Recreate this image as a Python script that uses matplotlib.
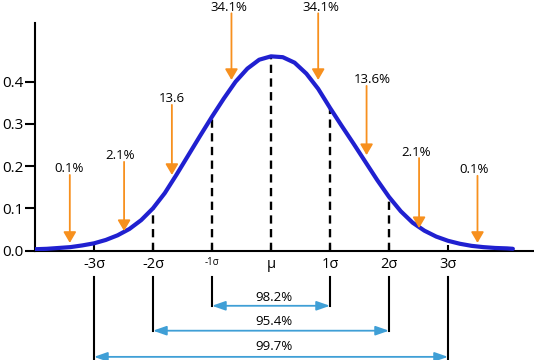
import matplotlib
matplotlib.use("Agg")
import matplotlib.pyplot as plt
import numpy as np

plt.rcParams['font.family'] = ['Open Sans', 'DejaVu Sans']

# curve (x in sigma units, y = density)
curve_x = [-4.0, -3.8, -3.6, -3.4, -3.2, -3.0, -2.8, -2.6, -2.4, -2.2, -2.0, -1.8, -1.6, -1.4,
           -1.2, -1.0, -0.8, -0.6, -0.4, -0.2, 0.0, 0.2, 0.4, 0.6, 0.8, 1.0, 1.2, 1.4,
           1.6, 1.8, 2.0, 2.2, 2.4, 2.6, 2.8, 3.0, 3.2, 3.4, 3.6, 3.8, 4.0, 4.1]
curve_y = [0.003, 0.004, 0.006, 0.008, 0.012, 0.017, 0.025, 0.036, 0.051, 0.072, 0.100, 0.136,
           0.180, 0.226, 0.272, 0.317, 0.360, 0.400, 0.431, 0.452, 0.460, 0.458, 0.445, 0.419,
           0.383, 0.338, 0.295, 0.253, 0.210, 0.167, 0.127, 0.093, 0.066, 0.047, 0.033, 0.023,
           0.016, 0.011, 0.008, 0.006, 0.005, 0.004]

sigma_ticks = [-3, -2, -1, 0, 1, 2, 3]
sigma_labels = ['-3σ', '-2σ', '-1σ', 'μ', '1σ', '2σ', '3σ']
dashed_at = [-2, -1, 0, 1, 2]
y_ticks = [0.0, 0.1, 0.2, 0.3, 0.4]

# orange arrows
arrow_x = [-3.41, -2.49, -1.68, -0.67, 0.80, 1.62, 2.51, 3.50]
arrow_top = [0.179, 0.210, 0.345, 0.562, 0.562, 0.390, 0.219, 0.177]
arrow_tip = [0.018, 0.046, 0.179, 0.404, 0.404, 0.226, 0.053, 0.018]
arrow_text_x = [-3.42, -2.56, -1.68, -0.71, 0.85, 1.71, 2.46, 3.44]
arrow_labels = ['0.1%', '2.1%', '13.6', '34.1%', '34.1%', '13.6%', '2.1%', '0.1%']

# brackets under the axis
bracket_left = [-1, -2, -3]
bracket_right = [1, 2, 3]
bracket_y = [-0.131, -0.190, -0.252]
bracket_text_y = [-0.111, -0.169, -0.228]
bracket_labels = ['98.2%', '95.4%', '99.7%']

orange = '#f7901e'
blue = '#2020d0'
light_blue = '#3f9fd6'

fig = plt.figure(figsize=(5.34, 3.6), dpi=100)
ax = fig.add_axes([35 / 534, 109.5 / 360, 499 / 534, 227.5 / 360])

ax.plot(curve_x, curve_y, color=blue, lw=3, solid_capstyle='round',
        solid_joinstyle='round', zorder=3)

for xd in dashed_at:
    top = np.interp(xd, curve_x, curve_y)
    ax.plot([xd, xd], [0, top], color='black', lw=1.7, dashes=(3.5, 2.3), zorder=2)

for x, top, tip, tx, lab in zip(arrow_x, arrow_top, arrow_tip, arrow_text_x, arrow_labels):
    ax.annotate('', xy=(x, tip), xytext=(x, top), annotation_clip=False,
                arrowprops=dict(arrowstyle='-|>,head_length=0.65,head_width=0.38',
                                mutation_scale=10, color=orange, lw=1.3,
                                shrinkA=0, shrinkB=0), zorder=4)
    ax.text(tx, top + 0.006, lab, ha='center', va='baseline', fontsize=9.5, clip_on=False)

for i, (l, r, y, ty, lab) in enumerate(zip(bracket_left, bracket_right, bracket_y,
                                             bracket_text_y, bracket_labels)):
    bottom = y if i < 2 else -0.27
    ax.plot([l, l], [-0.063, bottom], color='black', lw=1.5, clip_on=False)
    ax.plot([r, r], [-0.063, bottom], color='black', lw=1.5, clip_on=False)
    ax.annotate('', xy=(r, y), xytext=(l, y), annotation_clip=False,
                arrowprops=dict(arrowstyle='<|-|>,head_length=0.8,head_width=0.28',
                                mutation_scale=10, color=light_blue, lw=1.3,
                                shrinkA=0, shrinkB=0))
    ax.text((l + r) / 2 + 0.05, ty, lab, ha='center', va='center', fontsize=9.5, clip_on=False)

ax.set_xlim(-4.0, 4.458)
ax.set_ylim(0, 0.539)
ax.spines['top'].set_visible(False)
ax.spines['right'].set_visible(False)
ax.spines['left'].set_linewidth(1.5)
ax.spines['bottom'].set_linewidth(1.5)

ax.set_yticks(y_ticks, [f'{v:.1f}' for v in y_ticks])
ax.tick_params(axis='y', direction='out', length=7, width=1.5, pad=1, labelsize=11)
ax.set_xticks(sigma_ticks, sigma_labels)
ax.tick_params(axis='x', direction='in', length=4, width=1.5, pad=5, labelsize=10.5)
for t in ax.get_xticklabels():
    if t.get_text() == '-1σ':
        t.set_fontsize(7)

fig.savefig('out.png', dpi=100)
